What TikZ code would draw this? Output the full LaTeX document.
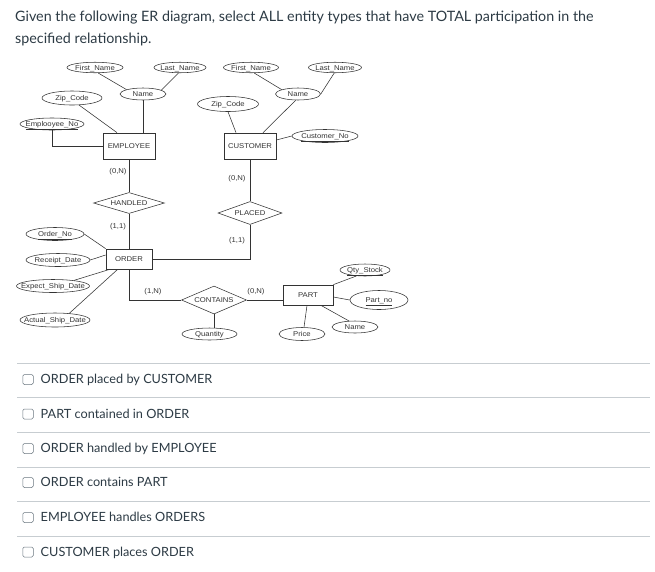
\documentclass[tikz,border=0pt]{standalone}
\usepackage{fontspec}
\setmainfont{Lato}
\newfontfamily\arialf[FakeStretch=1.1]{Liberation Sans}
\usetikzlibrary{shapes.geometric,calc}
\definecolor{txt}{HTML}{2D3B45}
\definecolor{rulec}{HTML}{C7CDD1}
\definecolor{ink}{HTML}{333333}
\definecolor{boxc}{HTML}{6B7780}
\newcommand\cl[1]{\makebox[0pt]{#1}}
\begin{document}
\begin{tikzpicture}[x=1pt,y=-1pt,
  dfont/.style={font=\arialf\fontsize{7}{8.5}\selectfont, text=ink},
  attr/.style={ellipse, draw=ink, line width=0.55pt, inner sep=0pt, text height=5pt, text depth=0pt, dfont},
  rel/.style={diamond, draw=ink, line width=0.55pt, inner sep=0pt, aspect=3, text height=5pt, text depth=0pt, dfont},
  ent/.style={rectangle, draw=ink, line width=0.75pt, inner sep=0pt, text height=5pt, text depth=0pt, dfont},
  conn/.style={draw=ink, line width=0.55pt},
  lbl/.style={inner sep=0pt, dfont},
  ttl/.style={anchor=base west, inner sep=0pt, text=txt, font=\fontsize{14.3}{17}\selectfont},
  opt/.style={anchor=base west, inner sep=0pt, text=txt, font=\fontsize{12.7}{15}\selectfont},
  chk/.style={draw=boxc, rounded corners=1.5pt, minimum width=10.5pt, minimum height=10pt, inner sep=0pt, line width=0.5pt},
  ruleline/.style={draw=rulec, line width=0.8pt}]
\fill[white] (0,0) rectangle (655,571);
\useasboundingbox (0,0) rectangle (655,571);

% title
\node[ttl] (t1) at (15,21) {Given the following ER diagram, select ALL entity types that have TOTAL participation in the};
\node[ttl] (t2) at (15,43) {specified relationship.};

% EMPLOYEE
\node[attr, minimum width=56pt, minimum height=10.5pt] (fnE) at (95,67.5) {\cl{First\_Name}};
\node[attr, minimum width=52pt, minimum height=10.5pt] (lnE) at (180,67.5) {\cl{Last\_Name}};
\node[attr, minimum width=46pt, minimum height=12pt] (nmE) at (143,94) {\cl{Name}};
\node[attr, minimum width=60pt, minimum height=14pt] (zipE) at (72,98) {\cl{Zip\_Code}};
\node[attr, minimum width=64pt, minimum height=12pt] (enoE) at (52,124) {\cl{\underline{Emplooyee\_No}}};
\node[ent, minimum width=52pt, minimum height=26pt] (emp) at (129,146) {EMPLOYEE};
\draw[conn] (fnE.300) -- (nmE.165);
\draw[conn] (lnE.255) -- (nmE.12);
\draw[conn] (nmE.south) -- (nmE.south |- emp.north);
\draw[conn] (zipE.-45) -- ([xshift=-12pt]emp.north);
\draw[conn] (enoE.south) |- (emp.west);

% HANDLED
\node[rel, minimum width=71pt, minimum height=21pt] (hand) at (129,203) {\cl{HANDLED}};
\draw[conn] (emp.south) -- (hand.north);
\node[lbl] (l0N1) at (118,172) {(0,N)};
\node[lbl] (l111) at (118,227) {(1,1)};

% ORDER
\node[ent, minimum width=46pt, minimum height=20pt] (ord) at (129,259) {ORDER};
\draw[conn] (hand.south) -- (ord.north);
\node[attr, minimum width=58pt, minimum height=13pt] (ordno) at (55,234) {\cl{\underline{Order\_No}}};
\node[attr, minimum width=64pt, minimum height=13pt] (rcpt) at (58,260) {\cl{Receipt\_Date}};
\node[attr, minimum width=73pt, minimum height=13pt] (exps) at (53,286) {\cl{Expect\_Ship\_Date}};
\node[attr, minimum width=70pt, minimum height=14pt] (acts) at (55,320) {\cl{Actual\_Ship\_Date}};
\draw[conn] (ordno.east) -- (ord.north west);
\draw[conn] (rcpt.east) -- ([yshift=4pt]ord.west);
\draw[conn] (exps.15) -- ([xshift=4pt]ord.south west);
\draw[conn] (acts.25) -- ([xshift=12pt]ord.south west);

% CUSTOMER
\node[attr, minimum width=55pt, minimum height=10.5pt] (fnC) at (251,67.5) {\cl{First\_Name}};
\node[attr, minimum width=53pt, minimum height=10.5pt] (lnC) at (335,67.5) {\cl{Last\_Name}};
\node[attr, minimum width=45pt, minimum height=12pt] (nmC) at (298,94) {\cl{Name}};
\node[attr, minimum width=61pt, minimum height=15pt] (zipC) at (228,104) {\cl{Zip\_Code}};
\node[attr, minimum width=66pt, minimum height=13pt] (cnoC) at (325,136) {\cl{\underline{Customer\_No}}};
\node[ent, minimum width=52pt, minimum height=26pt] (cust) at (250,146) {CUSTOMER};
\draw[conn] (fnC.300) -- (nmC.165);
\draw[conn] (lnC.262) -- (nmC.east);
\draw[conn] (nmC.250) -- ([xshift=13pt]cust.north);
\draw[conn] (zipC.south) -- ([xshift=-14pt]cust.north);
\draw[conn] ([yshift=6pt]cust.east) -- (cnoC.west);

% PLACED
\node[rel, minimum width=64pt, minimum height=23pt] (plc) at (250,213) {\cl{PLACED}};
\draw[conn] (cust.south) -- (plc.north);
\draw[conn] (ord.east) -| (plc.south);
\node[lbl] (l0N2) at (237,179) {(0,N)};
\node[lbl] (l112) at (237,241) {(1,1)};

% CONTAINS
\node[rel, minimum width=65pt, minimum height=28pt, aspect=2.3] (cont) at (214,300) {\cl{CONTAINS}};
\draw[conn] (ord.south) |- (cont.west);
\node[lbl] (l1N) at (153,292) {(1,N)};
\node[attr, minimum width=55pt, minimum height=12pt] (qtty) at (209.5,334) {\cl{Quantity}};
\draw[conn] (cont.south) -- (cont.south |- qtty.north);

% PART
\node[ent, minimum width=50pt, minimum height=20pt] (part) at (308,295) {PART};
\draw[conn] (cont.east) -- (cont.east -| part.west);
\node[lbl] (l0N3) at (256,292) {(0,N)};
\node[attr, minimum width=50pt, minimum height=12pt] (qty) at (365,270) {\cl{\underline{Qty\_Stock}}};
\node[attr, minimum width=58pt, minimum height=19pt] (pno) at (379,300) {\cl{\underline{Part\_no}}};
\node[attr, minimum width=46pt, minimum height=12pt] (nmP) at (355,327) {\cl{Name}};
\node[attr, minimum width=46pt, minimum height=13pt] (price) at (302,334) {\cl{Price}};
\draw[conn] (part.north east) -- (qty.215);
\draw[conn] ([yshift=-2pt]part.east) -- (pno.west);
\draw[conn] ([xshift=13pt]part.south) -- (nmP.135);
\draw[conn] ([xshift=-1pt]part.south) -- ([xshift=2pt]price.north);

% options
\draw[ruleline] (17,363) -- (650,363);
\draw[ruleline] (17,397) -- (650,397);
\draw[ruleline] (17,432) -- (650,432);
\draw[ruleline] (17,467) -- (650,467);
\draw[ruleline] (17,501) -- (650,501);
\draw[ruleline] (17,536) -- (650,536);
\node[chk] (c1) at (28,379.5) {};
\node[chk] (c2) at (28,414) {};
\node[chk] (c3) at (28,448.5) {};
\node[chk] (c4) at (28,482.5) {};
\node[chk] (c5) at (28,517.5) {};
\node[chk] (c6) at (28,552) {};
\node[opt] (o1) at (40.5,383.5) {ORDER placed by CUSTOMER};
\node[opt] (o2) at (40.5,418.3) {PART contained in ORDER};
\node[opt] (o3) at (40.5,452.5) {ORDER handled by EMPLOYEE};
\node[opt] (o4) at (40.5,486.7) {ORDER contains PART};
\node[opt] (o5) at (40.5,521.7) {EMPLOYEE handles ORDERS};
\node[opt] (o6) at (40.5,556) {CUSTOMER places ORDER};
\end{tikzpicture}
\end{document}
